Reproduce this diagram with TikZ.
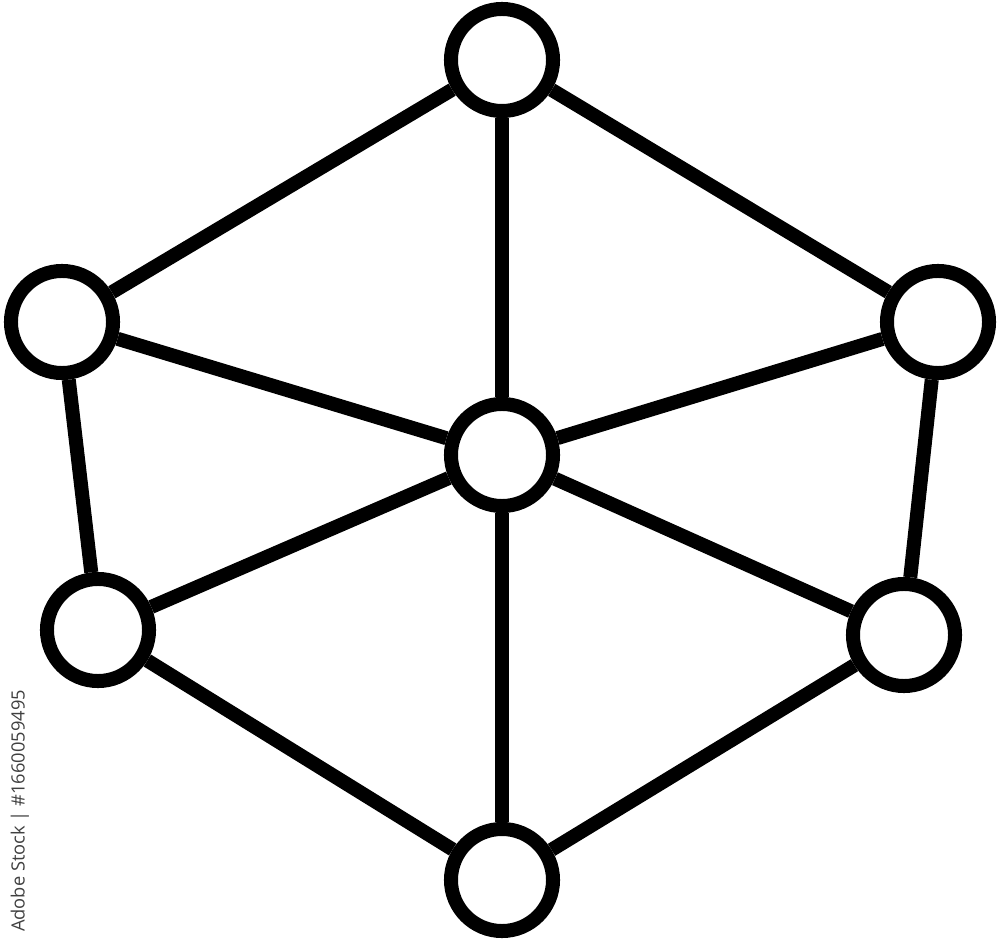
\documentclass[tikz,border=0pt]{standalone}
\usepackage{fontspec}
\newfontfamily\stockfont{Open Sans}
\usetikzlibrary{positioning}

\begin{document}
\begin{tikzpicture}[x=0.01cm,y=-0.01cm,line width=0.14cm,
    hub/.style={circle, draw, fill=white, inner sep=0pt, minimum size=1.02cm}]
    \useasboundingbox (0,0) rectangle (1000,943);

    \node[hub] (top) at (502, 60) {};
    \node[hub] (center) at (502, 455) {};
    \node[hub] (upleft) at (62, 322) {};
    \node[hub] (upright) at (938, 322) {};
    \node[hub] (lowleft) at (98, 630) {};
    \node[hub] (lowright) at (904, 635) {};
    \node[hub] (bottom) at (502, 880) {};

    \draw (top) -- (upleft);
    \draw (top) -- (upright);
    \draw (top) -- (center);
    \draw (upleft) -- (center);
    \draw (upright) -- (center);
    \draw (upleft) -- (lowleft);
    \draw (upright) -- (lowright);
    \draw (lowleft) -- (center);
    \draw (lowright) -- (center);
    \draw (lowleft) -- (bottom);
    \draw (lowright) -- (bottom);
    \draw (center) -- (bottom);

    \node[rotate=90, text=black!75, font=\stockfont\fontsize{5.2}{6}\selectfont, inner sep=0pt] (stock) at (20, 811) {Adobe Stock | \#1660059495};
\end{tikzpicture}
\end{document}
